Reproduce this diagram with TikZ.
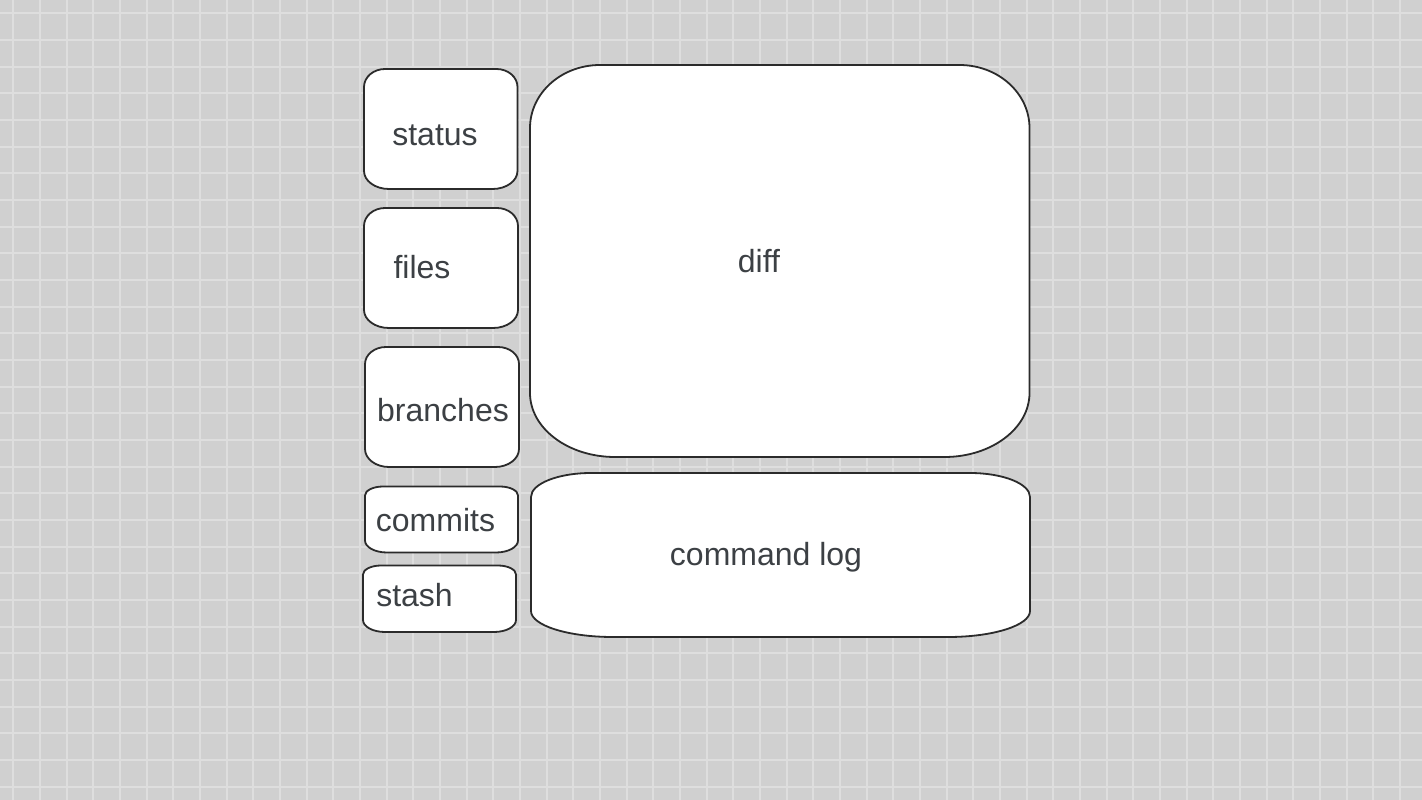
\documentclass[tikz,border=0pt]{standalone}
\usepackage{fontspec}
\setmainfont{Liberation Sans}
\definecolor{bgc}{HTML}{D0D0D0}
\definecolor{gridc}{HTML}{DEDEDE}
\definecolor{edgec}{HTML}{2B2B2B}
\definecolor{textc}{HTML}{3C4044}
\tikzset{
  boxline/.style={draw=edgec, fill=white, line width=1.8pt, line join=round},
  gridline/.style={draw=gridc, line width=2pt},
  lbl/.style={text=textc, font=\fontsize{32}{38}\selectfont, inner sep=0pt, anchor=base},
}
% x1 y1 x2 y2 rx-top ry-top rx-bottom ry-bottom
\newcommand\eboxpath[8]{%
  \draw[boxline] ({#1+#5},#2) -- ({#3-#5},#2)
    .. controls ({#3-0.448*#5},#2) and (#3,{#2+0.448*#6}) .. (#3,{#2+#6})
    -- (#3,{#4-#8})
    .. controls (#3,{#4-0.448*#8}) and ({#3-0.448*#7},#4) .. ({#3-#7},#4)
    -- ({#1+#7},#4)
    .. controls ({#1+0.448*#7},#4) and (#1,{#4-0.448*#8}) .. (#1,{#4-#8})
    -- (#1,{#2+#6})
    .. controls (#1,{#2+0.448*#6}) and ({#1+0.448*#5},#2) .. ({#1+#5},#2)
    -- cycle;}
\begin{document}
\begin{tikzpicture}[x=1pt,y=-1pt]
  \useasboundingbox (0,0) rectangle (1422,800);
  \fill[bgc] (0,0) rectangle (1422,800);
  \foreach \i in {0,...,53} {
    \draw[gridline] ({13.333+26.667*\i},0) -- ({13.333+26.667*\i},800);
  }
  \foreach \j in {0,...,29} {
    \draw[gridline] (0,{13.333+26.667*\j}) -- (1422,{13.333+26.667*\j});
  }
  % left column
  \eboxpath{364}{69}{517.5}{189}{21}{18}{25}{18}
  \node[lbl] (status) at (435,145) {status};
  \eboxpath{364}{208}{518}{328}{21}{18}{25}{18}
  \node[lbl] (files) at (422,278) {files};
  \eboxpath{365}{347}{519}{467}{21}{17}{24}{18}
  \node[lbl] (branches) at (443,421) {branches};
  \eboxpath{365}{486.5}{518}{552.5}{18}{9}{22}{12}
  \node[lbl] (commits) at (435.5,531) {commits};
  \eboxpath{363}{565.5}{516}{632}{18}{9}{22}{12}
  \node[lbl] (stash) at (414.5,606) {stash};
  % right column
  \eboxpath{530}{65}{1029.5}{457}{70}{63}{85}{64}
  \node[lbl] (diff) at (759,272) {diff};
  \eboxpath{531}{473}{1030}{637}{60}{24}{82}{26}
  \node[lbl] (cmdlog) at (766,565) {command log};
\end{tikzpicture}
\end{document}
